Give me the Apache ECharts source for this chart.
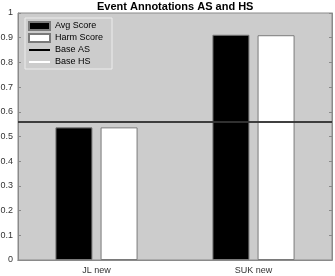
<!DOCTYPE html>
<html><head><meta charset="utf-8">
<script src="https://cdn.jsdelivr.net/npm/echarts@6/dist/echarts.min.js"></script>
<style>html,body{margin:0;padding:0;background:#fff}#c{width:335px;height:276px}</style>
</head><body><div id="c"></div>
<script>
const categories = ['JL new', 'SUK new'];
const avgScore = [0.537, 0.912];
const harmScore = [0.537, 0.910];
const baseAS = 0.562;
const baseHS = 0.556;
const yTicks = [0, 0.1, 0.2, 0.3, 0.4, 0.5, 0.6, 0.7, 0.8, 0.9, 1];

const chart = echarts.init(document.getElementById('c'));
const font = 'Liberation Sans, Arial, sans-serif';
const axisGrey = '#8a8a8a';
chart.setOption({
  animation: false,
  textStyle: {fontFamily: font},
  title: {text: 'Event Annotations AS and HS', left: 97, top: 1, padding: 0,
    textStyle: {fontSize: 11, fontWeight: 'bold', color: '#000', fontFamily: font}},
  grid: {left: 18, right: 3, top: 13, bottom: 16, show: true, outerBoundsMode: 'none', containLabel: false,
    backgroundColor: '#cccccc', borderColor: axisGrey, borderWidth: 1},
  legend: {
    orient: 'vertical', left: 25, top: 18, padding: [3, 9, 2, 3],
    backgroundColor: '#cccccc', borderColor: '#ececec', borderWidth: 1,
    itemWidth: 21, itemHeight: 8, itemGap: 2,
    textStyle: {fontSize: 9, color: '#000', fontFamily: font, lineHeight: 10},
    data: [
      {name: 'Avg Score', icon: 'rect'},
      {name: 'Harm Score', icon: 'rect'},
      {name: 'Base AS', itemStyle: {opacity: 0}},
      {name: 'Base HS', itemStyle: {opacity: 0}}
    ]
  },
  xAxis: [{
    type: 'category', data: categories,
    axisLine: {lineStyle: {color: axisGrey}},
    axisTick: {inside: true, alignWithLabel: true, length: 3, lineStyle: {color: axisGrey}},
    axisLabel: {fontSize: 9, color: '#333', margin: 6, fontFamily: font}
  }, {
    type: 'category', data: categories, position: 'top',
    axisLine: {lineStyle: {color: axisGrey}},
    axisTick: {inside: true, alignWithLabel: true, length: 3, lineStyle: {color: axisGrey}},
    axisLabel: {show: false}
  }],
  yAxis: [{
    type: 'value', min: 0, max: 1, interval: 0.1,
    axisLine: {show: true, lineStyle: {color: axisGrey}},
    axisTick: {show: true, inside: true, length: 3, lineStyle: {color: axisGrey}},
    splitLine: {show: false},
    axisLabel: {fontSize: 9, color: '#333', margin: 5, fontFamily: font,
      formatter: v => String(yTicks.find(t => Math.abs(t - v) < 1e-9) ?? v)}
  }, {
    type: 'value', min: 0, max: 1, interval: 0.1, position: 'right',
    axisLine: {show: true, lineStyle: {color: axisGrey}},
    axisTick: {show: true, inside: true, length: 3, lineStyle: {color: axisGrey}},
    splitLine: {show: false}, axisLabel: {show: false}
  }],
  series: [
    {name: 'Avg Score', type: 'bar', data: avgScore, barWidth: 37, barGap: '22%',
      itemStyle: {color: '#000', borderColor: '#7a7a7a', borderWidth: 1}},
    {name: 'Harm Score', type: 'bar', data: harmScore, barWidth: 37, barGap: '22%',
      itemStyle: {color: '#fff', borderColor: '#7a7a7a', borderWidth: 1}},
    {name: 'Base HS', type: 'line', data: [], symbol: 'none',
      lineStyle: {color: '#fff', width: 1.5}, itemStyle: {color: '#fff'},
      markLine: {symbol: 'none', silent: true, label: {show: false},
        lineStyle: {color: '#fff', width: 1.5, type: 'solid'}, data: [{yAxis: baseHS}]}},
    {name: 'Base AS', type: 'line', data: [], symbol: 'none',
      lineStyle: {color: '#000', width: 1.5}, itemStyle: {color: '#000'},
      markLine: {symbol: 'none', silent: true, label: {show: false},
        lineStyle: {color: '#000', width: 1.5, type: 'solid'}, data: [{yAxis: baseAS}]}}
  ]
});
</script></body></html>
